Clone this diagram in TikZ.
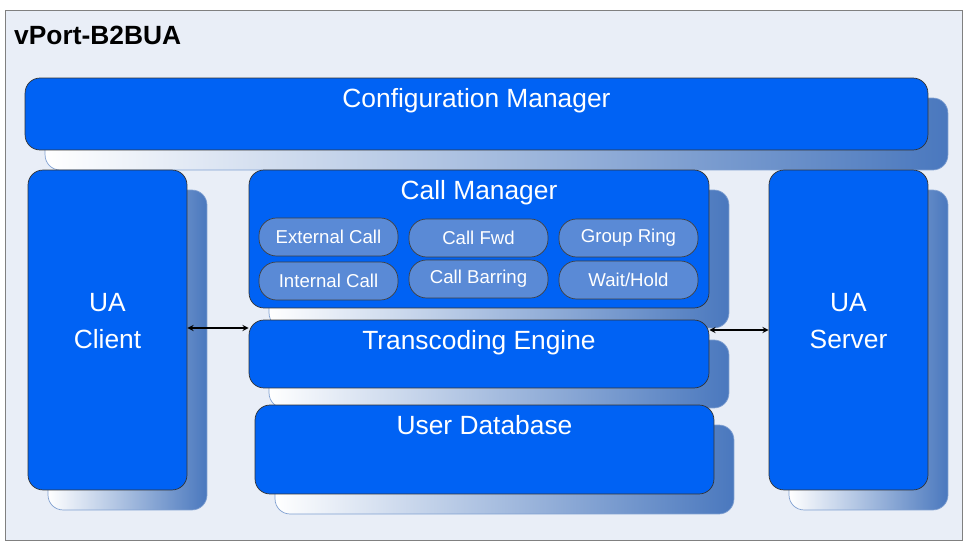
\documentclass[tikz,border=0pt]{standalone}
\usepackage{fontspec}
\setmainfont{Liberation Sans}
\usetikzlibrary{positioning}
\tikzset{blk/.style={rectangle,rounded corners=0.3cm,draw=black!80,fill=blockblue,text=white,font=\fontsize{15}{18}\selectfont,align=center},
  shd/.style={rectangle,rounded corners=0.3cm,draw=shadowblue!70,left color=white,right color=shadowblue},
  top/.style={label={[anchor=north,text=white,font=\fontsize{15}{18}\selectfont,yshift=-0.1cm]north:#1}},
  mid/.style={label={[align=center,text=white,font=\fontsize{15}{21}\selectfont,yshift=0.18cm]center:#1}},
  pill/.style={rectangle,rounded corners=0.35cm,draw=black!75,fill=pillblue,text=white,font=\fontsize{10.6}{13}\selectfont,minimum width=2.78cm,minimum height=0.76cm}}
\definecolor{blockblue}{HTML}{0062F4}
\definecolor{pillblue}{HTML}{5A8AD6}
\definecolor{shadowblue}{HTML}{4A78BE}
\definecolor{framebg}{HTML}{E9EEF7}

\begin{document}
\begin{tikzpicture}[x={(0.02cm,0)},y={(0,-0.02cm)},>=stealth]
    \useasboundingbox[fill=white] (0,0) rectangle (968,547);
    \node[draw=black!50,fill=framebg,minimum width=19.14cm,minimum height=10.6cm] (frame) at (483.5,275) {};
    \node[anchor=west,font=\bfseries\fontsize{15}{18}\selectfont] (title) at (8,35) {vPort-B2BUA};

    % shadows
    \node[shd,minimum width=18.06cm,minimum height=1.44cm] (cfg-s) at (496.5,134) {};
    \node[shd,minimum width=3.18cm,minimum height=6.4cm] (cli-s) at (127.5,350) {};
    \node[shd,minimum width=3.18cm,minimum height=6.4cm] (srv-s) at (868.5,350) {};
    \node[shd,minimum width=9.2cm,minimum height=2.76cm] (cm-s) at (499,259) {};
    \node[shd,minimum width=9.2cm,minimum height=1.36cm] (te-s) at (499,374) {};
    \node[shd,minimum width=9.18cm,minimum height=1.78cm] (db-s) at (504.5,469.5) {};

    % blocks
    \node[blk,minimum width=18.06cm,minimum height=1.44cm,top=Configuration Manager] (cfg) at (476.5,114) {};
    \node[blk,minimum width=3.18cm,minimum height=6.4cm,mid={UA\\Client}] (cli) at (107.5,330) {};
    \node[blk,minimum width=3.18cm,minimum height=6.4cm,mid={UA\\Server}] (srv) at (848.5,330) {};
    \node[blk,minimum width=9.2cm,minimum height=2.76cm,top=Call Manager] (cm) at (479,239) {};
    \node[blk,minimum width=9.2cm,minimum height=1.36cm,top=Transcoding Engine] (te) at (479,354) {};
    \node[blk,minimum width=9.18cm,minimum height=1.78cm,top=User Database] (db) at (484.5,449.5) {};

    % call manager features
    \node[pill] (ext) at (328.5,237) {External Call};
    \node[pill] (fwd) at (478.5,238) {Call Fwd};
    \node[pill] (grp) at (628.5,238) {Group Ring};
    \node[pill] (int) at (328.5,281) {Internal Call};
    \node[pill] (bar) at (478.5,279) {Call Barring};
    \node[pill] (wait) at (628.5,280) {Wait/Hold};

    \draw[<->,line width=0.6pt] (cli.east |- 0,328) -- (te.west |- 0,328);
    \draw[<->,line width=0.6pt] (te.east |- 0,330) -- (srv.west |- 0,330);
\end{tikzpicture}
\end{document}
